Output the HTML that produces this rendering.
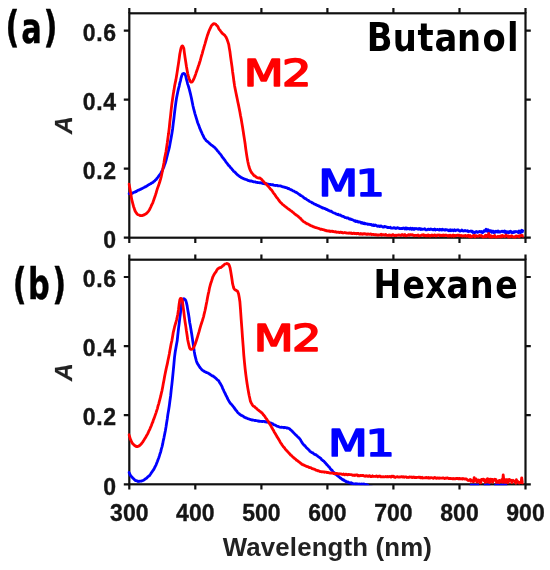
<!DOCTYPE html>
<html><head><meta charset="utf-8"><title>Absorption spectra</title>
<style>html,body{margin:0;padding:0;background:#fff;width:550px;height:570px;overflow:hidden}svg{display:block}</style>
</head><body>
<svg width="550" height="570" viewBox="0 0 550 570">
<defs>
<clipPath id="ca"><rect x="127.5" y="12.3" width="399.5" height="226.4"/></clipPath>
<clipPath id="cb"><rect x="127.5" y="258.7" width="399.5" height="226.6"/></clipPath>
</defs>
<style>
.tk{font-family:"Liberation Sans",Arial,sans-serif;font-weight:bold;font-size:23px;fill:#151515;stroke:#151515;stroke-width:0.35px}
.lb{font-family:"Liberation Sans",Arial,sans-serif;font-weight:bold;font-size:25.8px;fill:#222}
.big{font-family:"Liberation Sans",Arial,sans-serif;font-weight:bold}
.c{fill:none;stroke-width:2.8;stroke-linejoin:round;stroke-linecap:round}
.t{fill:none;stroke-width:2.8;stroke-linejoin:round;stroke-linecap:butt}
</style>
<rect width="550" height="570" fill="#fff"/>
<rect x="129.3" y="13.3" width="396.2" height="224.4" fill="none" stroke="#111" stroke-width="2.2"/>
<path d="M129.3 237.7 V243.0 M129.3 13.3 V8.0 M195.3 237.7 V243.0 M195.3 13.3 V8.0 M261.4 237.7 V243.0 M261.4 13.3 V8.0 M327.4 237.7 V243.0 M327.4 13.3 V8.0 M393.4 237.7 V243.0 M393.4 13.3 V8.0 M459.5 237.7 V243.0 M459.5 13.3 V8.0 M525.5 237.7 V243.0 M525.5 13.3 V8.0 M123.8 237.7 H129.3 M525.5 237.7 H530.8 M123.8 168.7 H129.3 M525.5 168.7 H530.8 M123.8 99.6 H129.3 M525.5 99.6 H530.8 M123.8 30.6 H129.3 M525.5 30.6 H530.8" stroke="#111" stroke-width="2.2" fill="none"/>
<rect x="129.3" y="259.7" width="396.2" height="224.6" fill="none" stroke="#111" stroke-width="2.2"/>
<path d="M129.3 484.3 V489.6 M129.3 259.7 V254.4 M195.3 484.3 V489.6 M195.3 259.7 V254.4 M261.4 484.3 V489.6 M261.4 259.7 V254.4 M327.4 484.3 V489.6 M327.4 259.7 V254.4 M393.4 484.3 V489.6 M393.4 259.7 V254.4 M459.5 484.3 V489.6 M459.5 259.7 V254.4 M525.5 484.3 V489.6 M525.5 259.7 V254.4 M123.8 484.3 H129.3 M525.5 484.3 H530.8 M123.8 415.2 H129.3 M525.5 415.2 H530.8 M123.8 346.1 H129.3 M525.5 346.1 H530.8 M123.8 277.0 H129.3 M525.5 277.0 H530.8" stroke="#111" stroke-width="2.2" fill="none"/>
<g clip-path="url(#ca)">
<path class="c" stroke="#00f" d="M129.0 193.6 129.7 193.5 130.3 193.8 131.0 193.8 131.6 193.4 132.3 193.3 133.0 192.8 133.6 192.5 134.3 192.2 134.9 192.1 135.6 191.5 136.3 191.6 136.9 190.8 137.6 190.6 138.2 190.2 138.9 190.2 139.6 189.7 140.2 189.4 140.9 189.1 141.5 188.9 142.2 188.5 142.9 188.1 143.5 187.8 144.2 187.4 144.8 187.0 145.5 186.9 146.2 186.4 146.8 186.0 147.5 185.7 148.1 185.0 148.8 184.7 149.5 184.3 150.1 184.0 150.8 183.7 151.4 183.1 152.1 182.9 152.8 182.5 153.4 181.9 154.1 181.3 154.7 181.0 155.4 180.0 156.1 179.6 156.7 178.7 157.4 177.8 158.0 177.1 158.7 176.1 159.4 175.2 160.0 174.5 160.7 173.5 161.3 172.2 162.0 171.1 162.7 169.6 163.3 168.1 164.0 166.6 164.6 164.6 165.3 162.9 166.0 160.6 166.6 158.2 167.3 155.5 167.9 153.0 168.6 150.4 169.3 147.7 169.9 144.5 170.6 140.8 171.2 137.5 171.9 133.5 172.6 129.0 173.2 123.8 173.9 118.5 174.5 113.2 175.2 107.4 175.9 102.2 176.5 98.2 177.2 94.8 177.8 91.8 178.5 88.6 179.2 86.1 179.8 83.1 180.5 80.6 181.1 77.8 181.8 75.5 182.5 74.0 183.1 73.6 183.8 73.5 184.4 73.7 185.1 74.5 185.8 76.2 186.4 79.2 187.1 81.5 187.7 84.1 188.4 86.1 189.1 88.5 189.7 90.9 190.4 93.7 191.0 96.3 191.7 99.4 192.4 102.9 193.0 106.0 193.7 108.9 194.3 111.1 195.0 113.8 195.7 116.2 196.3 118.2 197.0 120.4 197.6 122.5 198.3 124.2 199.0 125.9 199.6 127.8 200.3 129.3 200.9 130.9 201.6 132.3 202.3 134.1 202.9 135.2 203.6 136.7 204.2 138.0 204.9 138.9 205.6 139.7 206.2 140.6 206.9 141.1 207.5 141.7 208.2 142.2 208.9 142.8 209.5 143.4 210.2 144.0 210.8 144.6 211.5 145.1 212.2 145.6 212.8 145.9 213.5 146.6 214.1 147.1 214.8 147.5 215.5 148.4 216.1 149.0 216.8 149.9 217.4 150.8 218.1 151.3 218.8 152.3 219.4 153.1 220.1 153.9 220.7 154.6 221.4 155.5 222.1 156.8 222.7 157.5 223.4 158.3 224.0 159.3 224.7 160.0 225.4 161.1 226.0 162.1 226.7 162.9 227.3 163.6 228.0 164.7 228.7 165.5 229.3 165.9 230.0 166.8 230.6 167.7 231.3 168.3 232.0 169.3 232.6 169.8 233.3 170.8 233.9 171.5 234.6 171.8 235.3 172.7 235.9 173.2 236.6 173.9 237.2 174.5 237.9 175.2 238.6 175.7 239.2 176.0 239.9 176.7 240.5 176.9 241.2 177.6 241.9 177.8 242.5 178.1 243.2 178.4 243.8 178.7 244.5 179.2 245.2 179.2 245.8 179.5 246.5 179.7 247.1 179.9 247.8 180.4 248.5 180.5 249.1 180.7 249.8 181.0 250.4 181.0 251.1 180.9 251.8 181.2 252.4 181.4 253.1 181.7 253.7 181.9 254.4 181.8 255.1 181.8 255.7 182.1 256.4 182.4 257.0 182.3 257.7 182.6 258.4 182.7 259.0 182.7 259.7 182.8 260.3 182.7 261.0 182.8 261.7 182.9 262.3 183.3 263.0 183.4 263.6 183.7 264.3 183.6 265.0 183.9 265.6 183.7 266.3 183.7 266.9 183.8 267.6 184.0 268.3 184.2 268.9 184.5 269.6 184.3 270.2 184.4 270.9 184.7 271.6 184.6 272.2 184.8 272.9 184.7 273.5 185.2 274.2 185.3 274.9 185.3 275.5 185.5 276.2 185.4 276.8 185.3 277.5 185.6 278.2 185.9 278.8 185.8 279.5 185.8 280.1 185.9 280.8 186.0 281.5 186.3 282.1 186.7 282.8 186.8 283.4 186.9 284.1 187.1 284.8 187.1 285.4 187.6 286.1 187.6 286.7 187.9 287.4 188.0 288.1 188.6 288.7 188.5 289.4 189.0 290.0 189.3 290.7 189.6 291.4 189.9 292.0 190.1 292.7 190.6 293.3 191.0 294.0 191.2 294.7 191.7 295.3 192.0 296.0 192.1 296.6 192.7 297.3 192.9 298.0 193.6 298.6 193.9 299.3 194.6 299.9 194.7 300.6 195.6 301.3 195.7 301.9 196.1 302.6 196.5 303.2 197.0 303.9 197.8 304.6 198.2 305.2 198.7 305.9 198.7 306.5 199.4 307.2 199.9 307.9 200.3 308.5 200.4 309.2 201.2 309.8 201.5 310.5 201.8 311.2 202.0 311.8 202.5 312.5 203.0 313.1 203.2 313.8 203.6 314.5 204.2 315.1 204.2 315.8 204.8 316.4 204.7 317.1 205.3 317.8 205.7 318.4 205.6 319.1 206.3 319.7 206.4 320.4 206.9 321.1 207.2 321.7 207.2 322.4 208.0 323.0 207.9 323.7 208.1 324.4 208.5 325.0 208.6 325.7 208.9 326.3 209.5 327.0 209.4 327.7 209.9 328.3 210.4 329.0 210.4 329.6 211.0 330.3 211.3 331.0 211.1 331.6 211.4 332.3 212.1 332.9 212.5 333.6 212.8 334.3 213.0 334.9 213.2 335.6 213.8 336.2 213.9 336.9 214.2 337.6 214.6 338.2 214.3 338.9 215.0 339.5 215.2 340.2 215.0 340.9 215.5 341.5 216.0 342.2 216.1 342.8 216.4 343.5 216.5 344.2 216.9 344.8 217.4 345.5 217.7 346.1 217.6 346.8 218.0 347.5 217.8 348.1 218.1 348.8 218.7 349.4 219.1 350.1 218.8 350.8 219.1 351.4 219.6 352.1 219.7 352.7 219.9 353.4 220.1 354.1 220.6 354.7 221.1 355.4 220.8 356.0 221.5 356.7 221.1 357.4 221.4 358.0 222.0 358.7 221.6 359.3 222.0 360.0 222.0 360.7 222.3 361.3 223.0 362.0 222.5 362.6 223.1 363.3 223.5 364.0 223.0 364.6 223.7 365.3 223.4 365.9 223.9 366.6 223.9 367.3 223.8 367.9 224.4 368.6 224.4 369.2 224.2 369.9 224.5 370.6 224.4 371.2 224.5 371.9 225.2 372.5 225.4 373.2 224.7 373.9 225.6 374.5 225.5 375.2 224.9 375.8 225.2 376.5 225.6 377.2 226.2 377.8 226.3 378.5 225.8 379.1 226.1 379.8 226.6 380.5 226.0 381.1 226.0 381.8 226.4 382.4 226.8 383.1 227.1 383.8 227.2 384.4 226.4 385.1 226.6 385.7 226.7 386.4 227.2 387.1 227.1 387.7 227.7 388.4 227.5 389.0 227.6 389.7 227.7 390.4 227.3 391.0 228.1 391.7 228.2 392.3 228.2 393.0 228.2 393.7 227.7 394.3 227.6 395.0 228.0"/>
<path class="t" stroke="#00f" d="M395.0 228.2 395.7 228.4 396.3 228.4 397.0 227.8 397.6 227.7 398.3 228.2 399.0 228.1 399.6 228.7 400.3 228.6 400.9 228.5 401.6 228.5 402.3 228.7 402.9 228.1 403.6 228.4 404.2 228.1 404.9 229.0 405.6 228.0 406.2 229.0 406.9 228.1 407.5 228.9 408.2 228.5 408.9 228.6 409.5 229.1 410.2 228.2 410.8 228.2 411.5 229.3 412.2 228.8 412.8 228.3 413.5 229.4 414.1 229.4 414.8 228.4 415.5 228.8 416.1 228.5 416.8 228.8 417.4 229.1 418.1 228.6 418.8 229.3 419.4 228.5 420.1 228.7 420.7 229.5 421.4 229.0 422.1 229.1 422.7 229.3 423.4 229.2 424.0 229.1 424.7 228.7 425.4 229.6 426.0 229.9 426.7 229.9 427.3 229.6 428.0 229.2 428.7 229.2 429.3 229.7 430.0 229.7 430.6 229.0 431.3 229.2 432.0 229.4 432.6 229.6 433.3 229.9 433.9 229.6 434.6 229.0 435.3 230.0 435.9 229.6 436.6 229.7 437.2 229.4 437.9 229.6 438.6 229.6 439.2 230.1 439.9 229.3 440.5 229.9 441.2 229.5 441.9 230.1 442.5 229.3 443.2 229.7 443.8 229.8 444.5 230.1 445.2 229.5 445.8 230.0 446.5 229.7 447.1 229.8 447.8 230.1 448.5 230.7 449.1 230.1 449.8 230.7 450.4 229.8 451.1 230.7 451.8 230.1 452.4 229.9 453.1 230.6 453.7 230.8 454.4 229.7 455.1 230.1 455.7 230.7 456.4 230.2 457.0 230.1 457.7 229.8 458.4 229.9 459.0 230.6 459.7 231.1 460.3 231.1 461.0 230.6 461.7 230.0 462.3 230.4 463.0 231.0 463.6 231.0 464.3 230.8 465.0 230.4 465.6 230.8 466.3 230.8 466.9 231.1 467.6 230.7 468.3 231.6 468.9 231.3 469.6 231.3 470.2 231.2 470.9 231.0 471.6 231.5 472.2 231.3 472.9 232.6 473.5 231.9 474.2 232.5 474.9 232.5 475.5 232.1 476.2 231.5 476.8 231.8 477.5 232.4 478.2 232.2 478.8 231.8 479.5 231.4 480.1 231.4 480.8 232.1 481.5 231.6 482.1 232.5 482.8 232.5 483.4 231.8 484.1 230.6 484.8 231.3 485.4 230.6 486.1 229.2 486.7 229.9 487.4 231.4 488.1 229.7 488.7 232.1 489.4 232.1 490.0 230.6 490.7 230.9 491.4 231.0 492.0 232.4 492.7 231.2 493.3 231.2 494.0 232.6 494.7 231.8 495.3 232.2 496.0 231.1 496.6 231.7 497.3 232.0 498.0 231.0 498.6 232.1 499.3 231.7 499.9 232.1 500.6 231.9 501.3 231.5 501.9 231.2 502.6 231.4 503.2 231.9 503.9 231.3 504.6 230.9 505.2 232.5 505.9 231.4 506.5 232.7 507.2 232.1 507.9 231.7 508.5 232.6 509.2 232.7 509.8 231.5 510.5 231.1 511.2 232.2 511.8 232.6 512.5 232.1 513.1 232.5 513.8 231.7 514.5 232.2 515.1 231.5 515.8 231.8 516.4 231.7 517.1 231.7 517.8 231.8 518.4 232.6 519.1 231.0 519.7 232.4 520.4 232.6 521.1 230.9 521.7 230.3 522.4 231.8 523.0 230.9 523.7 231.3"/>
<path class="c" stroke="#f00" d="M129.0 184.1 129.7 187.6 130.3 190.7 131.0 194.6 131.6 198.9 132.3 201.6 133.0 204.3 133.6 206.7 134.3 208.6 134.9 210.5 135.6 211.9 136.3 212.8 136.9 213.8 137.6 214.4 138.2 214.7 138.9 215.0 139.6 215.2 140.2 215.7 140.9 215.7 141.5 215.6 142.2 215.5 142.9 215.4 143.5 215.0 144.2 214.9 144.8 214.3 145.5 214.1 146.2 213.7 146.8 213.2 147.5 212.4 148.1 211.6 148.8 210.8 149.5 209.8 150.1 208.4 150.8 207.1 151.4 205.5 152.1 204.1 152.8 202.9 153.4 200.9 154.1 199.1 154.7 197.2 155.4 195.2 156.1 193.0 156.7 190.9 157.4 188.7 158.0 186.9 158.7 185.0 159.4 183.1 160.0 181.0 160.7 178.7 161.3 176.3 162.0 173.0 162.7 169.8 163.3 166.3 164.0 162.4 164.6 158.4 165.3 155.0 166.0 151.5 166.6 147.4 167.3 142.8 167.9 138.1 168.6 133.3 169.3 127.5 169.9 121.3 170.6 115.4 171.2 109.6 171.9 103.7 172.6 98.7 173.2 94.6 173.9 90.6 174.5 86.6 175.2 83.1 175.9 79.9 176.5 76.2 177.2 71.9 177.8 67.8 178.5 63.4 179.2 58.5 179.8 54.0 180.5 50.4 181.1 47.8 181.8 46.2 182.5 45.9 183.1 46.7 183.8 48.3 184.4 52.9 185.1 57.7 185.8 62.2 186.4 66.3 187.1 70.3 187.7 73.5 188.4 76.2 189.1 78.5 189.7 80.2 190.4 81.6 191.0 82.1 191.7 82.2 192.4 81.7 193.0 80.6 193.7 79.1 194.3 77.8 195.0 76.1 195.7 74.1 196.3 72.2 197.0 70.2 197.6 68.5 198.3 66.3 199.0 64.5 199.6 62.5 200.3 60.3 200.9 58.0 201.6 55.5 202.3 53.3 202.9 50.9 203.6 48.7 204.2 46.4 204.9 44.1 205.6 41.6 206.2 39.5 206.9 37.2 207.5 35.1 208.2 33.4 208.9 31.3 209.5 29.9 210.2 28.4 210.8 27.1 211.5 25.6 212.2 24.8 212.8 24.5 213.5 23.7 214.1 23.7 214.8 23.8 215.5 24.0 216.1 24.7 216.8 25.4 217.4 26.0 218.1 27.1 218.8 28.7 219.4 29.6 220.1 30.4 220.7 31.3 221.4 32.1 222.1 33.1 222.7 33.6 223.4 34.2 224.0 34.8 224.7 35.2 225.4 36.3 226.0 37.0 226.7 38.6 227.3 40.1 228.0 42.1 228.7 44.3 229.3 48.1 230.0 52.1 230.6 56.9 231.3 61.9 232.0 66.6 232.6 71.7 233.3 76.5 233.9 81.3 234.6 85.9 235.3 89.5 235.9 92.5 236.6 95.9 237.2 98.8 237.9 102.2 238.6 105.4 239.2 108.5 239.9 112.0 240.5 115.5 241.2 119.1 241.9 123.2 242.5 126.8 243.2 131.3 243.8 135.2 244.5 139.6 245.2 144.3 245.8 149.1 246.5 153.9 247.1 157.6 247.8 161.5 248.5 164.6 249.1 167.0 249.8 169.1 250.4 170.5 251.1 171.8 251.8 173.0 252.4 173.6 253.1 174.4 253.7 175.3 254.4 175.9 255.1 176.0 255.7 176.6 256.4 177.2 257.0 177.5 257.7 177.9 258.4 177.9 259.0 178.2 259.7 177.9 260.3 178.4 261.0 179.0 261.7 179.4 262.3 180.2 263.0 180.9 263.6 181.6 264.3 182.4 265.0 183.1 265.6 183.5 266.3 184.1 266.9 185.0 267.6 185.6 268.3 186.4 268.9 187.1 269.6 187.9 270.2 188.7 270.9 189.4 271.6 190.1 272.2 190.9 272.9 192.1 273.5 193.0 274.2 193.9 274.9 194.6 275.5 195.8 276.2 196.8 276.8 197.5 277.5 198.3 278.2 199.3 278.8 200.1 279.5 201.1 280.1 201.9 280.8 202.6 281.5 203.2 282.1 203.9 282.8 204.6 283.4 204.9 284.1 205.7 284.8 206.2 285.4 206.6 286.1 207.2 286.7 207.6 287.4 208.2 288.1 208.8 288.7 209.0 289.4 209.7 290.0 210.1 290.7 210.6 291.4 211.0 292.0 211.7 292.7 212.2 293.3 212.6 294.0 213.3 294.7 213.9 295.3 214.2 296.0 215.0 296.6 215.2 297.3 215.8 298.0 216.2 298.6 216.9 299.3 217.5 299.9 218.0 300.6 218.5 301.3 219.3 301.9 220.2 302.6 220.7 303.2 221.3 303.9 221.8 304.6 222.0 305.2 222.5 305.9 223.2 306.5 223.3 307.2 223.9 307.9 223.9 308.5 224.2 309.2 224.8 309.8 225.0 310.5 225.5 311.2 225.9 311.8 225.8 312.5 226.3 313.1 226.5 313.8 227.0 314.5 227.2 315.1 227.4 315.8 227.6 316.4 227.6 317.1 228.0 317.8 228.2 318.4 228.3 319.1 228.5 319.7 228.9 320.4 229.3 321.1 229.1 321.7 229.4 322.4 229.4 323.0 229.7 323.7 229.9 324.4 229.9 325.0 230.4 325.7 230.4 326.3 230.8 327.0 230.6 327.7 231.0 328.3 231.2 329.0 230.8 329.6 231.0 330.3 231.5 331.0 231.2 331.6 231.3 332.3 231.2 332.9 231.7 333.6 231.5 334.3 231.9 334.9 231.8 335.6 231.6 336.2 232.2 336.9 232.3 337.6 232.2 338.2 232.2 338.9 232.4 339.5 232.6 340.2 232.1 340.9 232.2 341.5 232.6 342.2 232.4 342.8 232.9 343.5 232.9 344.2 232.7 344.8 232.5 345.5 232.9 346.1 232.9 346.8 233.0 347.5 233.2 348.1 233.0 348.8 233.3 349.4 233.2 350.1 232.9 350.8 233.4 351.4 233.0 352.1 233.6 352.7 233.7 353.4 233.1 354.1 233.2 354.7 233.6 355.4 233.5 356.0 233.4 356.7 233.8 357.4 233.5 358.0 233.3 358.7 233.7 359.3 234.1 360.0 234.2 360.7 233.5 361.3 234.1 362.0 233.7 362.6 234.3 363.3 233.8 364.0 233.6 364.6 233.9 365.3 234.1 365.9 233.8 366.6 234.4 367.3 234.0 367.9 234.4 368.6 234.0 369.2 234.2 369.9 234.4 370.6 234.0 371.2 234.1 371.9 234.7 372.5 234.3 373.2 234.3 373.9 234.6 374.5 234.7 375.2 234.9 375.8 234.6 376.5 234.9 377.2 235.0 377.8 235.0 378.5 235.1 379.1 234.9 379.8 234.9 380.5 234.6 381.1 234.3 381.8 235.2 382.4 234.7 383.1 234.6 383.8 234.8 384.4 235.1 385.1 235.2 385.7 234.4 386.4 235.1 387.1 235.3 387.7 235.4 388.4 235.4 389.0 235.0 389.7 235.4 390.4 235.1 391.0 235.4 391.7 235.5 392.3 234.9 393.0 234.6 393.7 235.3 394.3 235.6 395.0 235.5"/>
<path class="t" stroke="#f00" d="M395.0 235.0 395.7 235.2 396.3 235.6 397.0 235.1 397.6 235.1 398.3 235.2 399.0 234.8 399.6 235.2 400.3 235.3 400.9 235.5 401.6 234.7 402.3 234.9 402.9 234.7 403.6 235.5 404.2 235.4 404.9 234.6 405.6 235.8 406.2 235.8 406.9 235.4 407.5 235.3 408.2 234.8 408.9 234.6 409.5 235.3 410.2 234.7 410.8 234.9 411.5 234.9 412.2 234.7 412.8 235.2 413.5 235.2 414.1 235.7 414.8 235.3 415.5 235.4 416.1 235.3 416.8 235.5 417.4 235.2 418.1 235.0 418.8 235.9 419.4 235.9 420.1 235.7 420.7 235.6 421.4 235.1 422.1 235.0 422.7 235.1 423.4 234.8 424.0 235.7 424.7 235.2 425.4 235.8 426.0 235.2 426.7 235.9 427.3 235.8 428.0 234.8 428.7 235.0 429.3 235.9 430.0 235.4 430.6 236.0 431.3 235.3 432.0 234.9 432.6 235.6 433.3 235.8 433.9 235.2 434.6 234.9 435.3 235.2 435.9 236.0 436.6 235.8 437.2 235.0 437.9 235.2 438.6 235.0 439.2 235.0 439.9 235.8 440.5 235.1 441.2 235.6 441.9 235.4 442.5 235.1 443.2 235.8 443.8 235.1 444.5 235.7 445.2 235.1 445.8 235.4 446.5 235.2 447.1 235.3 447.8 236.1 448.5 235.9 449.1 235.3 449.8 236.0 450.4 235.2 451.1 235.5 451.8 236.0 452.4 235.8 453.1 235.1 453.7 236.2 454.4 235.3 455.1 235.3 455.7 235.9 456.4 235.4 457.0 235.4 457.7 235.1 458.4 235.2 459.0 235.7 459.7 235.3 460.3 235.8 461.0 235.5 461.7 235.6 462.3 236.2 463.0 235.7 463.6 235.8 464.3 236.1 465.0 235.3 465.6 235.3 466.3 236.3 466.9 236.2 467.6 235.6 468.3 235.3 468.9 236.5 469.6 236.9 470.2 235.5 470.9 237.0 471.6 236.9 472.2 236.4 472.9 236.0 473.5 235.4 474.2 235.3 474.9 237.1 475.5 235.7 476.2 235.7 476.8 236.1 477.5 236.2 478.2 236.4 478.8 235.8 479.5 235.3 480.1 236.0 480.8 236.0 481.5 235.5 482.1 236.0 482.8 237.1 483.4 237.2 484.1 236.6 484.8 236.3 485.4 235.3 486.1 236.7 486.7 235.4 487.4 236.3 488.1 236.0 488.7 233.3 489.4 237.1 490.0 236.7 490.7 235.7 491.4 237.2 492.0 236.2 492.7 237.1 493.3 236.3 494.0 236.6 494.7 235.5 495.3 236.7 496.0 237.4 496.6 237.1 497.3 236.9 498.0 236.2 498.6 236.9 499.3 236.6 499.9 236.3 500.6 237.1 501.3 235.6 501.9 236.9 502.6 235.5 503.2 236.0 503.9 236.4 504.6 236.8 505.2 236.1 505.9 235.1 506.5 236.2 507.2 236.1 507.9 235.8 508.5 237.3 509.2 237.2 509.8 236.3 510.5 236.7 511.2 236.1 511.8 235.8 512.5 236.5 513.1 237.2 513.8 237.2 514.5 236.9 515.1 237.4 515.8 236.1 516.4 235.9 517.1 236.4 517.8 236.4 518.4 235.9 519.1 237.0 519.7 235.6 520.4 235.7 521.1 235.8 521.7 235.2 522.4 235.6 523.0 236.1 523.7 235.9"/>
</g>
<g clip-path="url(#cb)">
<path class="c" stroke="#00f" d="M129.0 472.5 129.7 473.7 130.3 475.1 131.0 476.1 131.6 476.7 132.3 477.4 133.0 478.3 133.6 478.7 134.3 479.5 134.9 480.2 135.6 480.6 136.3 480.6 136.9 480.9 137.6 481.1 138.2 481.5 138.9 481.2 139.6 481.3 140.2 481.2 140.9 481.1 141.5 481.1 142.2 480.7 142.9 480.5 143.5 480.3 144.2 479.9 144.8 479.2 145.5 478.9 146.2 478.4 146.8 478.0 147.5 477.2 148.1 476.6 148.8 476.1 149.5 475.6 150.1 474.7 150.8 473.7 151.4 472.7 152.1 471.8 152.8 470.7 153.4 470.0 154.1 468.8 154.7 467.5 155.4 466.1 156.1 464.8 156.7 463.1 157.4 461.5 158.0 459.7 158.7 458.0 159.4 455.9 160.0 453.8 160.7 451.9 161.3 449.1 162.0 446.8 162.7 443.9 163.3 440.6 164.0 437.6 164.6 434.5 165.3 431.0 166.0 427.0 166.6 423.0 167.3 418.8 167.9 414.3 168.6 410.2 169.3 405.8 169.9 401.0 170.6 396.0 171.2 390.1 171.9 384.1 172.6 377.5 173.2 371.3 173.9 364.1 174.5 357.4 175.2 352.0 175.9 347.9 176.5 344.4 177.2 340.8 177.8 335.0 178.5 328.6 179.2 323.4 179.8 318.2 180.5 312.7 181.1 307.4 181.8 302.5 182.5 299.7 183.1 299.0 183.8 298.6 184.4 299.0 185.1 299.6 185.8 300.6 186.4 302.7 187.1 305.6 187.7 309.6 188.4 313.3 189.1 317.8 189.7 322.5 190.4 326.1 191.0 329.8 191.7 334.0 192.4 338.6 193.0 342.9 193.7 347.4 194.3 351.8 195.0 355.7 195.7 358.4 196.3 360.6 197.0 362.7 197.6 363.9 198.3 364.8 199.0 366.0 199.6 366.9 200.3 368.0 200.9 368.5 201.6 369.4 202.3 370.1 202.9 370.5 203.6 370.9 204.2 371.4 204.9 371.7 205.6 372.1 206.2 372.3 206.9 372.7 207.5 372.8 208.2 373.0 208.9 373.7 209.5 374.1 210.2 374.4 210.8 374.8 211.5 375.3 212.2 375.8 212.8 375.8 213.5 376.5 214.1 376.8 214.8 377.5 215.5 377.9 216.1 378.5 216.8 379.2 217.4 379.8 218.1 380.3 218.8 380.9 219.4 382.3 220.1 383.2 220.7 384.3 221.4 385.4 222.1 386.8 222.7 388.6 223.4 389.8 224.0 391.3 224.7 392.6 225.4 394.0 226.0 395.5 226.7 396.6 227.3 398.0 228.0 399.4 228.7 400.7 229.3 401.8 230.0 402.8 230.6 403.6 231.3 404.3 232.0 404.9 232.6 405.9 233.3 406.7 233.9 407.4 234.6 408.4 235.3 409.4 235.9 410.3 236.6 410.9 237.2 411.8 237.9 412.7 238.6 413.3 239.2 413.7 239.9 414.5 240.5 414.8 241.2 415.4 241.9 415.5 242.5 416.0 243.2 416.2 243.8 416.9 244.5 417.2 245.2 417.7 245.8 417.9 246.5 418.0 247.1 418.3 247.8 418.6 248.5 418.8 249.1 419.0 249.8 419.4 250.4 419.5 251.1 419.7 251.8 420.0 252.4 419.9 253.1 420.1 253.7 420.2 254.4 420.3 255.1 420.6 255.7 420.5 256.4 420.7 257.0 420.7 257.7 421.0 258.4 420.9 259.0 421.3 259.7 421.2 260.3 421.3 261.0 421.3 261.7 421.5 262.3 421.5 263.0 421.5 263.6 421.3 264.3 421.4 265.0 421.8 265.6 421.7 266.3 422.1 266.9 422.0 267.6 422.2 268.3 422.3 268.9 422.6 269.6 422.6 270.2 423.0 270.9 423.0 271.6 423.3 272.2 423.5 272.9 424.0 273.5 424.6 274.2 424.9 274.9 424.9 275.5 425.2 276.2 425.8 276.8 426.1 277.5 426.3 278.2 426.4 278.8 426.7 279.5 427.1 280.1 427.2 280.8 427.3 281.5 427.2 282.1 427.4 282.8 427.3 283.4 427.4 284.1 427.8 284.8 427.5 285.4 427.6 286.1 427.6 286.7 428.0 287.4 428.0 288.1 428.1 288.7 428.5 289.4 428.7 290.0 429.4 290.7 430.0 291.4 430.4 292.0 431.0 292.7 431.8 293.3 432.4 294.0 433.2 294.7 433.8 295.3 434.5 296.0 435.1 296.6 435.6 297.3 436.4 298.0 437.1 298.6 437.6 299.3 438.3 299.9 439.0 300.6 440.0 301.3 441.3 301.9 442.4 302.6 443.4 303.2 444.2 303.9 445.0 304.6 445.5 305.2 446.2 305.9 447.0 306.5 447.8 307.2 448.4 307.9 449.0 308.5 449.7 309.2 450.2 309.8 451.1 310.5 451.7 311.2 452.2 311.8 452.6 312.5 452.6 313.1 453.1 313.8 453.9 314.5 454.2 315.1 454.6 315.8 454.7 316.4 455.2 317.1 455.6 317.8 456.3 318.4 456.7 319.1 457.3 319.7 457.6 320.4 458.1 321.1 458.8 321.7 459.7 322.4 460.1 323.0 460.7 323.7 461.0 324.4 461.8 325.0 462.5 325.7 463.3 326.3 463.9 327.0 464.9 327.7 465.4 328.3 466.4 329.0 466.7 329.6 467.5 330.3 468.7 331.0 469.5 331.6 469.9 332.3 470.5 332.9 471.8 333.6 472.2 334.3 472.6 334.9 473.9 335.6 474.2 336.2 474.6 336.9 475.3 337.6 475.7 338.2 476.3 338.9 476.7 339.5 477.2 340.2 477.9 340.9 478.1 341.5 478.9 342.2 479.3 342.8 479.9 343.5 479.7 344.2 480.6 344.8 480.9 345.5 480.9 346.1 481.8 346.8 481.8 347.5 481.8 348.1 482.1 348.8 482.9 349.4 482.9 350.1 482.7 350.8 483.3 351.4 482.8 352.1 483.5 352.7 483.5 353.4 483.8 354.1 483.9 354.7 483.8 355.4 484.0 356.0 483.7 356.7 484.2 357.4 483.8 358.0 484.1 358.7 484.2 359.3 483.9 360.0 484.3 360.7 484.3 361.3 483.9 362.0 484.3 362.6 484.2 363.3 484.4 364.0 483.9 364.6 484.6 365.3 484.5 365.9 484.9 366.6 484.7 367.3 484.8 367.9 485.5 368.6 486.0 369.2 486.4 369.9 486.5 370.6 487.1 371.2 486.6 371.9 486.8 372.5 487.3 373.2 487.7 373.9 488.1 374.5 487.6 375.2 488.3 375.8 488.3"/>
<path class="c" stroke="#f00" d="M129.0 434.8 129.7 437.0 130.3 439.0 131.0 440.4 131.6 441.9 132.3 443.2 133.0 444.1 133.6 444.4 134.3 445.1 134.9 445.9 135.6 446.0 136.3 446.5 136.9 446.4 137.6 446.5 138.2 446.4 138.9 446.0 139.6 445.5 140.2 444.9 140.9 444.4 141.5 443.6 142.2 442.7 142.9 441.8 143.5 440.8 144.2 439.7 144.8 438.6 145.5 437.7 146.2 436.3 146.8 435.3 147.5 434.1 148.1 432.8 148.8 431.2 149.5 429.8 150.1 428.6 150.8 426.8 151.4 425.5 152.1 423.4 152.8 422.0 153.4 419.9 154.1 418.4 154.7 416.6 155.4 414.6 156.1 412.6 156.7 410.7 157.4 408.6 158.0 406.0 158.7 403.8 159.4 401.2 160.0 398.9 160.7 396.2 161.3 393.4 162.0 390.6 162.7 387.0 163.3 383.6 164.0 379.9 164.6 376.6 165.3 372.9 166.0 369.6 166.6 366.8 167.3 363.9 167.9 360.8 168.6 357.5 169.3 354.0 169.9 350.6 170.6 346.8 171.2 343.5 171.9 340.6 172.6 336.6 173.2 332.7 173.9 329.8 174.5 327.2 175.2 324.7 175.9 322.5 176.5 320.1 177.2 317.0 177.8 314.2 178.5 309.4 179.2 303.7 179.8 299.9 180.5 298.3 181.1 298.3 181.8 298.8 182.5 301.7 183.1 306.7 183.8 311.8 184.4 316.9 185.1 322.0 185.8 326.4 186.4 330.8 187.1 335.2 187.7 339.8 188.4 343.0 189.1 345.9 189.7 348.2 190.4 349.1 191.0 349.3 191.7 349.3 192.4 349.0 193.0 348.3 193.7 347.7 194.3 346.1 195.0 344.5 195.7 342.5 196.3 340.7 197.0 338.5 197.6 336.6 198.3 334.2 199.0 331.9 199.6 329.7 200.3 327.2 200.9 325.2 201.6 323.0 202.3 320.9 202.9 318.8 203.6 316.6 204.2 313.8 204.9 311.0 205.6 307.9 206.2 304.6 206.9 301.3 207.5 297.7 208.2 294.2 208.9 291.3 209.5 288.0 210.2 285.4 210.8 283.2 211.5 281.2 212.2 279.0 212.8 277.0 213.5 275.7 214.1 274.4 214.8 273.3 215.5 272.4 216.1 271.6 216.8 270.2 217.4 269.3 218.1 268.5 218.8 268.3 219.4 267.7 220.1 267.6 220.7 267.6 221.4 267.0 222.1 266.6 222.7 265.8 223.4 265.5 224.0 264.8 224.7 264.2 225.4 264.0 226.0 263.8 226.7 263.5 227.3 263.6 228.0 263.9 228.7 264.3 229.3 265.5 230.0 267.6 230.6 270.8 231.3 274.9 232.0 279.5 232.6 283.7 233.3 286.5 233.9 288.5 234.6 289.4 235.3 290.0 235.9 290.1 236.6 290.7 237.2 290.8 237.9 292.0 238.6 293.9 239.2 297.3 239.9 301.8 240.5 309.5 241.2 319.7 241.9 328.9 242.5 337.7 243.2 346.5 243.8 355.1 244.5 362.7 245.2 369.3 245.8 374.4 246.5 379.6 247.1 383.8 247.8 388.1 248.5 392.1 249.1 395.3 249.8 398.3 250.4 401.2 251.1 402.7 251.8 403.8 252.4 405.0 253.1 405.9 253.7 406.3 254.4 406.6 255.1 407.3 255.7 407.9 256.4 408.3 257.0 409.0 257.7 409.6 258.4 410.1 259.0 410.6 259.7 411.2 260.3 411.5 261.0 412.3 261.7 412.5 262.3 413.3 263.0 414.2 263.6 415.1 264.3 415.8 265.0 416.7 265.6 417.8 266.3 418.6 266.9 419.4 267.6 420.5 268.3 421.4 268.9 422.7 269.6 423.8 270.2 424.6 270.9 425.8 271.6 427.2 272.2 428.3 272.9 429.5 273.5 430.4 274.2 431.9 274.9 433.0 275.5 434.1 276.2 435.2 276.8 436.4 277.5 437.4 278.2 438.5 278.8 439.6 279.5 440.7 280.1 441.9 280.8 443.1 281.5 443.9 282.1 445.0 282.8 445.9 283.4 446.9 284.1 447.4 284.8 448.4 285.4 449.4 286.1 449.9 286.7 450.8 287.4 451.4 288.1 452.1 288.7 452.8 289.4 453.6 290.0 454.1 290.7 455.1 291.4 455.5 292.0 456.1 292.7 456.9 293.3 457.2 294.0 458.1 294.7 458.5 295.3 458.9 296.0 459.6 296.6 460.4 297.3 460.5 298.0 461.1 298.6 461.6 299.3 462.2 299.9 462.6 300.6 463.3 301.3 463.6 301.9 464.4 302.6 464.4 303.2 464.9 303.9 465.1 304.6 465.4 305.2 465.7 305.9 466.1 306.5 466.3 307.2 466.6 307.9 466.6 308.5 467.1 309.2 467.5 309.8 467.5 310.5 467.7 311.2 467.9 311.8 468.6 312.5 468.7 313.1 468.9 313.8 469.2 314.5 469.2 315.1 469.5 315.8 470.1 316.4 470.1 317.1 470.5 317.8 470.9 318.4 470.7 319.1 471.1 319.7 471.4 320.4 471.6 321.1 471.7 321.7 471.9 322.4 471.8 323.0 471.7 323.7 472.0 324.4 472.3 325.0 472.0 325.7 472.2 326.3 472.2 327.0 472.7 327.7 472.3 328.3 472.5 329.0 472.8 329.6 473.0 330.3 472.9 331.0 473.2 331.6 473.2 332.3 473.1 332.9 473.0 333.6 473.5 334.3 473.5 334.9 473.8 335.6 473.7 336.2 473.3 336.9 473.5 337.6 473.6 338.2 474.0 338.9 473.7 339.5 473.8 340.2 473.8 340.9 473.9 341.5 474.1 342.2 474.3 342.8 474.5 343.5 474.0 344.2 474.4 344.8 474.8 345.5 474.4 346.1 474.2 346.8 474.7 347.5 474.9 348.1 474.3 348.8 474.4 349.4 474.6 350.1 474.7 350.8 474.6 351.4 474.6 352.1 475.0 352.7 475.4 353.4 475.2 354.1 475.0 354.7 475.6 355.4 475.1 356.0 475.0 356.7 475.0 357.4 475.0 358.0 475.8 358.7 475.5 359.3 475.9 360.0 475.6 360.7 475.3 361.3 475.6 362.0 475.6 362.6 475.4 363.3 475.4 364.0 476.0 364.6 476.2 365.3 476.3 365.9 475.7 366.6 476.1 367.3 475.8 367.9 476.3 368.6 476.4 369.2 475.6 369.9 475.8 370.6 476.5 371.2 476.6 371.9 476.5 372.5 475.8 373.2 476.3 373.9 476.5 374.5 476.3 375.2 476.3 375.8 476.5 376.5 475.9 377.2 476.4 377.8 476.8 378.5 476.4 379.1 476.2 379.8 476.0 380.5 476.8 381.1 476.6 381.8 476.9 382.4 476.9 383.1 476.7 383.8 476.9 384.4 476.9 385.1 476.8 385.7 476.5 386.4 476.8 387.1 476.9 387.7 476.4 388.4 476.9 389.0 476.8 389.7 476.5 390.4 476.6 391.0 477.1 391.7 476.2 392.3 476.2 393.0 476.7 393.7 476.3 394.3 477.2 395.0 477.3"/>
<path class="t" stroke="#f00" d="M395.0 476.5 395.7 477.0 396.3 476.9 397.0 476.8 397.6 476.6 398.3 477.1 399.0 477.2 399.6 476.9 400.3 477.0 400.9 476.8 401.6 476.6 402.3 476.9 402.9 477.1 403.6 476.7 404.2 477.3 404.9 476.9 405.6 476.9 406.2 476.8 406.9 477.5 407.5 477.3 408.2 477.5 408.9 477.3 409.5 476.8 410.2 477.1 410.8 477.2 411.5 477.0 412.2 477.6 412.8 477.2 413.5 477.0 414.1 477.6 414.8 477.1 415.5 477.7 416.1 477.4 416.8 477.5 417.4 477.3 418.1 477.4 418.8 477.2 419.4 477.1 420.1 477.8 420.7 477.3 421.4 477.8 422.1 477.3 422.7 478.0 423.4 477.9 424.0 477.8 424.7 477.9 425.4 477.7 426.0 477.9 426.7 477.4 427.3 477.7 428.0 478.0 428.7 477.5 429.3 478.1 430.0 478.1 430.6 477.7 431.3 477.7 432.0 477.8 432.6 477.8 433.3 478.3 433.9 477.8 434.6 477.5 435.3 477.6 435.9 478.1 436.6 478.4 437.2 478.0 437.9 478.0 438.6 478.1 439.2 478.3 439.9 477.9 440.5 478.2 441.2 478.2 441.9 478.2 442.5 477.9 443.2 477.9 443.8 478.1 444.5 478.5 445.2 478.1 445.8 478.3 446.5 478.1 447.1 478.0 447.8 477.9 448.5 478.6 449.1 478.6 449.8 478.3 450.4 478.5 451.1 478.5 451.8 478.7 452.4 478.8 453.1 478.4 453.7 478.9 454.4 478.9 455.1 478.6 455.7 478.8 456.4 478.5 457.0 478.5 457.7 478.4 458.4 478.9 459.0 478.3 459.7 478.3 460.3 478.9 461.0 478.9 461.7 478.7 462.3 479.0 463.0 478.5 463.6 478.8 464.3 478.9 465.0 479.1 465.6 478.9 466.3 478.9 466.9 479.3 467.6 480.2 468.3 480.5 468.9 480.3 469.6 479.8 470.2 479.4 470.9 481.3 471.6 480.3 472.2 480.9 472.9 481.5 473.5 481.8 474.2 477.6 474.9 480.5 475.5 480.0 476.2 478.9 476.8 482.1 477.5 481.5 478.2 481.3 478.8 480.0 479.5 480.6 480.1 482.8 480.8 482.6 481.5 479.5 482.1 479.4 482.8 479.4 483.4 479.1 484.1 480.8 484.8 479.6 485.4 482.5 486.1 481.6 486.7 479.9 487.4 478.7 488.1 481.9 488.7 479.2 489.4 482.6 490.0 482.2 490.7 479.1 491.4 480.9 492.0 479.4 492.7 482.2 493.3 479.8 494.0 480.1 494.7 479.2 495.3 480.4 496.0 479.5 496.6 482.7 497.3 481.2 498.0 482.1 498.6 483.1 499.3 480.4 499.9 482.0 500.6 481.3 501.3 481.5 501.9 479.5 502.6 482.5 503.2 474.8 503.9 480.7 504.6 480.5 505.2 483.2 505.9 479.7 506.5 479.6 507.2 479.6 507.9 482.6 508.5 481.9 509.2 479.4 509.8 479.8 510.5 480.2 511.2 480.4 511.8 482.6 512.5 481.2 513.1 480.3 513.8 480.9 514.5 481.3 515.1 481.9 515.8 483.2 516.4 479.7 517.1 481.3 517.8 481.4 518.4 482.3 519.1 483.0 519.7 482.6 520.4 482.0 521.1 482.5 521.7 477.8 522.4 482.9 523.0 482.3 523.7 482.2"/>
<path class="t" stroke="#00f" d="M376.0 488.5 376.5 488.5 377.0 488.5 377.5 488.5 378.0 488.5 378.5 488.5 379.0 488.5 379.5 488.5 380.0 488.5 380.5 488.5 381.0 488.5 381.5 488.5 382.0 488.5 382.5 488.5 383.0 488.5 383.5 488.5 384.0 488.5 384.5 488.5 385.0 488.5 385.5 488.5 386.0 488.5 386.5 488.5 387.0 488.5 387.5 488.5 388.0 488.5 388.5 488.5 389.0 488.5 389.5 488.5 390.0 488.5 390.5 488.5 391.0 488.5 391.5 488.5 392.0 488.5 392.5 488.5 393.0 488.5 393.5 488.5 394.0 488.5 394.5 488.5 395.0 488.5 395.5 488.5 396.0 488.5 396.5 488.5 397.0 488.5 397.5 488.5 398.0 488.5 398.5 488.5 399.0 488.5 399.5 488.5 400.0 488.5 400.5 488.5 401.0 488.5 401.5 488.5 402.0 488.5 402.5 488.5 403.0 488.5 403.5 488.5 404.0 488.5 404.5 488.5 405.0 488.5 405.5 488.5 406.0 488.5 406.5 488.5 407.0 488.5 407.5 488.5 408.0 488.5 408.5 488.5 409.0 488.5 409.5 488.5 410.0 488.5 410.5 488.5 411.0 488.5 411.5 488.5 412.0 488.5 412.5 488.5 413.0 488.5 413.5 488.5 414.0 488.5 414.5 488.5 415.0 488.5 415.5 488.5 416.0 488.5 416.5 488.5 417.0 488.5 417.5 488.5 418.0 488.5 418.5 488.5 419.0 488.5 419.5 488.5 420.0 488.5 420.5 488.5 421.0 488.5 421.5 488.5 422.0 488.5 422.5 488.5 423.0 488.5 423.5 488.5 424.0 488.5 424.5 488.5 425.0 488.5 425.5 488.5 426.0 488.5 426.5 488.5 427.0 488.5 427.5 488.5 428.0 488.5 428.5 488.5 429.0 488.5 429.5 488.5 430.0 488.5 430.5 488.5 431.0 488.5 431.5 488.5 432.0 488.5 432.5 488.5 433.0 488.5 433.5 488.5 434.0 488.5 434.5 488.5 435.0 488.5 435.5 488.5 436.0 488.5 436.5 488.5 437.0 488.5 437.5 488.5 438.0 488.5 438.5 488.5 439.0 488.5 439.5 488.5 440.0 488.5 440.5 488.5 441.0 488.5 441.5 488.5 442.0 488.5 442.5 488.5 443.0 488.5 443.5 488.5 444.0 488.5 444.5 488.5 445.0 488.5 445.5 488.5 446.0 488.5 446.5 488.5 447.0 488.5 447.5 488.5 448.0 488.5 448.5 488.5 449.0 488.5 449.5 488.5 450.0 488.5 450.5 488.5 451.0 488.5 451.5 488.5 452.0 488.5 452.5 488.5 453.0 488.5 453.5 488.5 454.0 488.5 454.5 488.5 455.0 488.5 455.5 488.5 456.0 488.5 456.5 488.5 457.0 488.5 457.5 488.5 458.0 488.5 458.5 488.5 459.0 488.5 459.5 488.5 460.0 488.5 460.5 488.5 461.0 488.5 461.5 488.5 462.0 488.5 462.5 488.5 463.0 488.5 463.5 488.5 464.0 488.5 464.5 488.5 465.0 488.5 465.5 488.5 466.0 488.5 466.5 488.5 467.0 488.5 467.5 488.5 468.0 488.5 468.5 488.5 469.0 488.5 469.5 488.5 470.0 488.5 470.5 488.5 471.0 485.2 471.5 485.2 472.0 485.2 472.5 485.2 473.0 485.2 473.5 485.2 474.0 485.2 474.5 485.2 475.0 485.2 475.5 485.2 476.0 485.2 476.5 485.2 477.0 485.2 477.5 485.2 478.0 485.2 478.5 488.5 479.0 488.5 479.5 488.5 480.0 488.5 480.5 488.5 481.0 488.5 481.5 488.5 482.0 488.5 482.5 488.5 483.0 488.5 483.5 488.5 484.0 488.5 484.5 488.5 485.0 485.2 485.5 485.2 486.0 485.2 486.5 485.2 487.0 485.2 487.5 485.2 488.0 485.2 488.5 485.2 489.0 485.2 489.5 488.5 490.0 488.5 490.5 488.5 491.0 488.5 491.5 488.5 492.0 488.5 492.5 488.5 493.0 488.5 493.5 488.5 494.0 488.5 494.5 488.5 495.0 488.5 495.5 485.2 496.0 485.2 496.5 485.2 497.0 485.2 497.5 485.2 498.0 485.2 498.5 485.2 499.0 488.5 499.5 488.5 500.0 488.5 500.5 488.5 501.0 485.2 501.5 485.2 502.0 485.2 502.5 485.2 503.0 485.2 503.5 485.2 504.0 485.2 504.5 485.2 505.0 485.2 505.5 485.2 506.0 485.2 506.5 488.5 507.0 488.5 507.5 488.5 508.0 488.5 508.5 488.5 509.0 488.5 509.5 488.5 510.0 488.5 510.5 488.5 511.0 488.5 511.5 488.5 512.0 488.5 512.5 488.5 513.0 488.5 513.5 488.5 514.0 488.5 514.5 488.5 515.0 488.5 515.5 488.5 516.0 488.5 516.5 488.5 517.0 488.5 517.5 488.5 518.0 488.5 518.5 488.5 519.0 488.5 519.5 488.5 520.0 488.5 520.5 488.5 521.0 488.5 521.5 488.5 522.0 488.5 522.5 488.5 523.0 488.5 523.5 488.5 524.0 488.5"/>
</g>
<text x="103.21" y="247.9" class="tk">0</text>
<text x="82.83 96.22 103.21" y="178.9" class="tk">0.2</text>
<text x="82.83 96.22 103.21" y="109.8" class="tk">0.4</text>
<text x="82.83 96.22 103.21" y="40.8" class="tk">0.6</text>
<text x="103.21" y="494.5" class="tk">0</text>
<text x="82.83 96.22 103.21" y="425.4" class="tk">0.2</text>
<text x="82.83 96.22 103.21" y="356.3" class="tk">0.4</text>
<text x="82.83 96.22 103.21" y="287.2" class="tk">0.6</text>
<text x="129.3" y="521" text-anchor="middle" class="tk">300</text>
<text x="195.3" y="521" text-anchor="middle" class="tk">400</text>
<text x="261.4" y="521" text-anchor="middle" class="tk">500</text>
<text x="327.4" y="521" text-anchor="middle" class="tk">600</text>
<text x="393.4" y="521" text-anchor="middle" class="tk">700</text>
<text x="459.5" y="521" text-anchor="middle" class="tk">800</text>
<text x="525.5" y="521" text-anchor="middle" class="tk">900</text>
<text x="327.4" y="555.5" text-anchor="middle" class="lb" style="letter-spacing:0.17px">Wavelength (nm)</text>
<text transform="translate(71.9,125.2) rotate(-90)" text-anchor="middle" class="lb" style="font-style:italic;font-weight:bold;font-size:24.6px;stroke:#222;stroke-width:0.2">A</text>
<text transform="translate(71.9,372) rotate(-90)" text-anchor="middle" class="lb" style="font-style:italic;font-weight:bold;font-size:24.6px;stroke:#222;stroke-width:0.2">A</text>
<text transform="matrix(0.3052 0 0 0.4234 0 0)" x="18.30 69.44 142.39" y="99.73 101.11 99.73" font-family='"DejaVu Sans",sans-serif' font-weight="bold" font-size="100" fill="#000" stroke="#000" stroke-width="0.98" stroke-linejoin="round">(a)</text>
<text transform="matrix(0.3041 0 0 0.4286 0 0)" x="41.96 91.98 171.78" y="696.57 696.79 696.57" font-family='"DejaVu Sans",sans-serif' font-weight="bold" font-size="100" fill="#000" stroke="#000" stroke-width="0.99" stroke-linejoin="round">(b)</text>
<text transform="matrix(0.3384 0 0 0.3906 0 0)" x="1083.59 1160.45 1233.50 1284.05 1350.74 1426.14 1498.31" y="131.84 131.84 131.84 131.84 131.84 131.84 131.84" font-family='"DejaVu Sans",sans-serif' font-weight="bold" font-size="100" fill="#000">Butanol</text>
<text transform="matrix(0.3316 0 0 0.3936 0 0)" x="1126.24 1214.07 1282.56 1346.34 1417.51 1493.50" y="756.91 756.91 756.91 756.91 756.91 756.91" font-family='"DejaVu Sans",sans-serif' font-weight="bold" font-size="100" fill="#000">Hexane</text>
<text transform="matrix(0.4630 0 0 0.3648 0 0)" x="526.63 609.30" y="235.51 235.51" font-family='"DejaVu Sans",sans-serif' font-weight="normal" font-size="100" fill="#f00" stroke="#f00" stroke-width="4.54" stroke-linejoin="round">M2</text>
<text transform="matrix(0.4634 0 0 0.3641 0 0)" x="686.81 767.41" y="538.15 538.15" font-family='"DejaVu Sans",sans-serif' font-weight="normal" font-size="100" fill="#00f" stroke="#00f" stroke-width="4.53" stroke-linejoin="round">M1</text>
<text transform="matrix(0.4630 0 0 0.3648 0 0)" x="548.23 630.90" y="961.87 961.87" font-family='"DejaVu Sans",sans-serif' font-weight="normal" font-size="100" fill="#f00" stroke="#f00" stroke-width="4.54" stroke-linejoin="round">M2</text>
<text transform="matrix(0.4614 0 0 0.3691 0 0)" x="711.01 792.35" y="1236.24 1236.24" font-family='"DejaVu Sans",sans-serif' font-weight="normal" font-size="100" fill="#00f" stroke="#00f" stroke-width="4.55" stroke-linejoin="round">M1</text>
</svg>
</body></html>
